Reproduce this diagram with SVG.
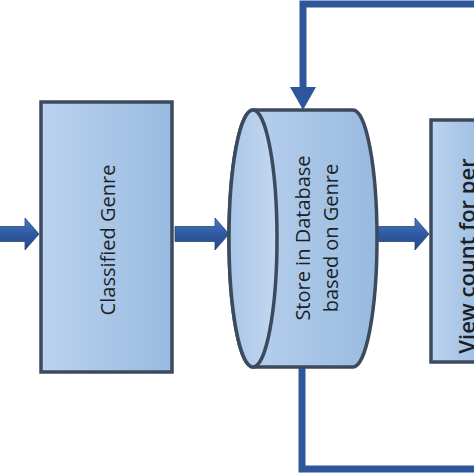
<svg xmlns="http://www.w3.org/2000/svg" width="474" height="474" viewBox="0 0 474 474">
<defs>
<linearGradient id="nodeFill" x1="0" y1="0" x2="1" y2="0">
<stop offset="0" stop-color="#bcd3ef"/>
<stop offset="1" stop-color="#98badf"/>
</linearGradient>
<linearGradient id="faceFill" x1="0" y1="0" x2="1" y2="0">
<stop offset="0" stop-color="#aac6e8"/>
<stop offset="1" stop-color="#c3d8f1"/>
</linearGradient>
<linearGradient id="arrowFill" x1="0" y1="0" x2="0" y2="1">
<stop offset="0" stop-color="#4b79c2"/>
<stop offset="0.5" stop-color="#2f5aa0"/>
<stop offset="1" stop-color="#244a8a"/>
</linearGradient>
<style>
.node{stroke:#3c4a5d;stroke-width:3.5;fill:url(#nodeFill)}
.face{stroke:#3c4a5d;stroke-width:3.5;fill:url(#faceFill)}
.lbl{font-family:"Open Sans","Liberation Sans",sans-serif;font-size:20px;fill:#1b1f26;text-anchor:middle}
.blk{fill:url(#arrowFill);stroke:#23467f;stroke-width:0.8}
.loop{fill:none;stroke:#2e579b;stroke-width:7}
</style>
</defs>
<g id="connectors">
<polygon class="blk" points="-2,226.5 25,226.5 25,218 39,234 25,250 25,241.5 -2,241.5"/>
<polygon class="blk" points="175,226.5 215,226.5 215,218 229,234 215,250 215,241.5 175,241.5"/>
<polygon class="blk" points="377,226.5 415,226.5 415,218 429,234 415,250 415,241.5 377,241.5"/>
<path class="loop" d="M475,4 H303 V89"/>
<polygon points="290,87 316,87 303,110" fill="#2e579b"/>
<path class="loop" d="M302,368 V469 H475"/>
</g>
<g id="node-classified">
<rect class="node" x="41" y="102" width="131" height="270"/>
<text class="lbl" transform="translate(115,240) rotate(-90)">Classified Genre</text>
</g>
<g id="node-store">
<path class="node" d="M253,110 H353 A24,128.5 0 0 1 353,367 H253 A24,128.5 0 0 1 253,110 Z"/>
<ellipse class="face" cx="253" cy="238.5" rx="24" ry="128.5"/>
<text class="lbl" transform="translate(310,238) rotate(-90)">Store in Database</text>
<text class="lbl" transform="translate(338,238) rotate(-90)">based on Genre</text>
</g>
<g id="node-view">
<rect class="node" x="431" y="120" width="60" height="242"/>
<text class="lbl" style="font-size:22px;font-weight:600" transform="translate(475,256) rotate(-90)">View count for per</text>
</g>
</svg>
